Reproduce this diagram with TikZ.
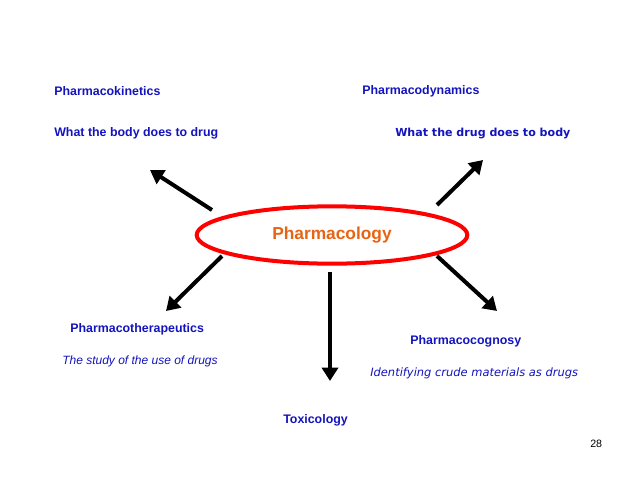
\documentclass[tikz,border=0pt]{standalone}
\usepackage{fontspec}
\setmainfont{Liberation Sans}
\newfontfamily\comicf{DejaVu Sans}
\usetikzlibrary{shapes.geometric,arrows.meta}
\definecolor{lblue}{RGB}{20,20,190}
\definecolor{orng}{RGB}{230,100,20}
\begin{document}
\begin{tikzpicture}[x=0.75pt,y=-0.75pt,
 lab/.style={text=lblue,font=\fontsize{9.3}{11}\selectfont\bfseries,anchor=west,inner sep=0},
 labi/.style={text=lblue,font=\fontsize{9}{11}\selectfont\itshape,anchor=west,inner sep=0},
 arr/.style={line width=3pt,-{Triangle[length=10pt,width=12pt]}}]
\useasboundingbox[fill=white] (0,0) rectangle (638,478);
\node[ellipse,draw=red,line width=3pt,minimum width=203pt,minimum height=43pt,inner sep=0,text=orng,font=\fontsize{13}{15}\selectfont\bfseries] (c) at (332,235) {Pharmacology};
\coordinate (a1s) at (212,210); \coordinate (a1e) at (150,170);
\coordinate (a2s) at (437,205); \coordinate (a2e) at (483,160);
\coordinate (a3s) at (222,256); \coordinate (a3e) at (166,311);
\coordinate (a4s) at (330,272); \coordinate (a4e) at (330,381);
\coordinate (a5s) at (437,256); \coordinate (a5e) at (497,311);
\draw[arr] (a1s)--(a1e); \draw[arr] (a2s)--(a2e); \draw[arr] (a3s)--(a3e);
\draw[arr] (a4s)--(a4e); \draw[arr] (a5s)--(a5e);
\node[lab] (pk) at (54,91) {Pharmacokinetics};
\node[lab] (pkd) at (54,133) {What the body does to drug};
\node[lab] (pd) at (362,91) {Pharmacodynamics};
\node[lab,font=\comicf\fontsize{8.3}{11}\selectfont\bfseries] (pdd) at (395,133) {What the drug does to body};
\node[lab] (pt) at (70,329) {Pharmacotherapeutics};
\node[labi] (ptd) at (62,361) {The study of the use of drugs};
\node[lab] (pg) at (410,341) {Pharmacocognosy};
\node[labi,font=\comicf\fontsize{8.6}{11}\selectfont\itshape] (pgd) at (370,373) {Identifying crude materials as drugs};
\node[lab] (tx) at (283,420) {Toxicology};
\node[inner sep=0,font=\fontsize{8}{10}\selectfont,anchor=west] (n) at (590,444) {28};
\end{tikzpicture}
\end{document}
